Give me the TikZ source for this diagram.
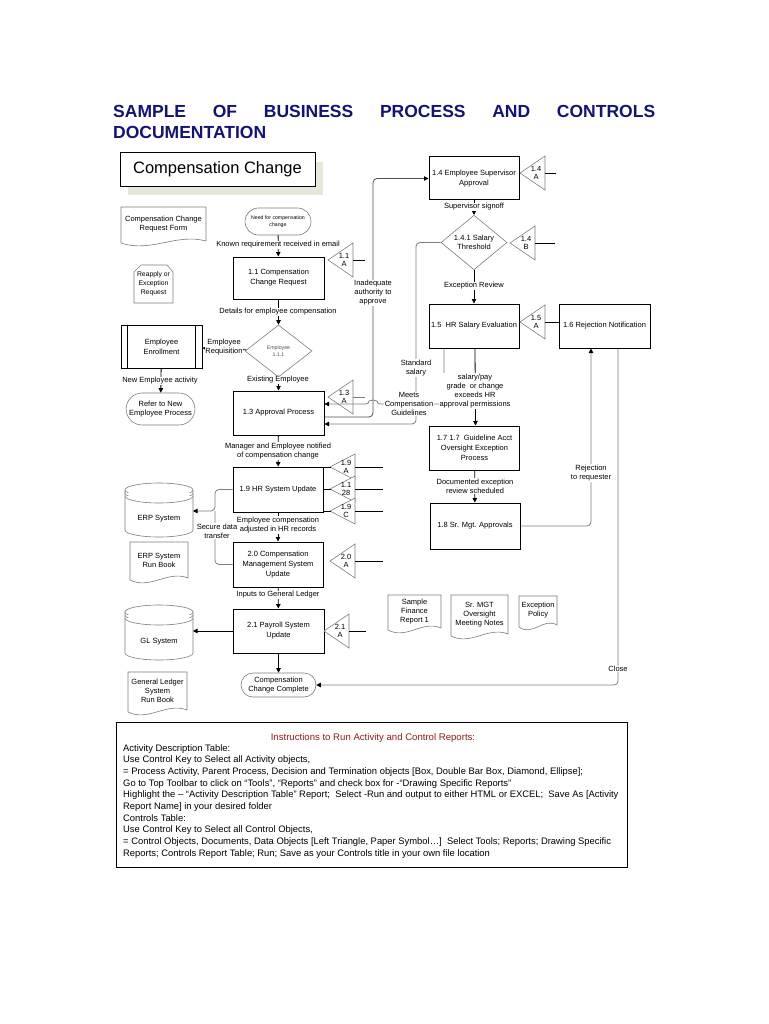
\documentclass[tikz,border=0pt]{standalone}
\usepackage{fontspec}
\setmainfont{Liberation Sans}
\usetikzlibrary{arrows.meta,shapes.geometric,shapes.misc}
\definecolor{navy}{RGB}{18,18,125}
\definecolor{shadowc}{RGB}{230,230,218}
\definecolor{darkred}{RGB}{150,25,25}
\definecolor{lgray}{RGB}{125,125,125}
\definecolor{mgray}{RGB}{80,80,80}
\tikzset{
 boxn/.style={draw=black,line width=1pt,fill=white,inner sep=1pt,align=center,font=\fontsize{7.5}{10}\selectfont},
 lbl/.style={fill=white,inner sep=0.6pt,align=center,font=\fontsize{7.5}{9}\selectfont},
 tri/.style={draw=lgray,line width=0.6pt,fill=white},
 trilbl/.style={inner sep=0pt,align=center,font=\fontsize{7.5}{8.5}\selectfont},
 docl/.style={draw=lgray,line width=0.6pt,fill=white},
 doctxt/.style={inner sep=0pt,align=center,font=\fontsize{7.5}{9}\selectfont},
 term/.style={rounded rectangle,draw=lgray,line width=0.6pt,fill=white,inner sep=1pt,align=center,font=\fontsize{7.5}{9}\selectfont},
 dec/.style={diamond,draw=lgray,line width=0.6pt,fill=white,inner sep=0pt,align=center,font=\fontsize{7.5}{9}\selectfont},
 ln/.style={draw=black,line width=0.8pt},
 lng/.style={draw=lgray,line width=0.8pt},
 lnm/.style={draw=mgray,line width=0.8pt},
 arr/.style={ln,-{Triangle[length=4.5pt,width=4.5pt]}},
 arrg/.style={lng,-{Triangle[length=4.5pt,width=4.5pt,color=black]}},
 arrm/.style={lnm,-{Triangle[length=4.5pt,width=4.5pt,color=black]}},
 ins/.style={anchor=base west,inner sep=0pt,font=\fontsize{9.4}{11}\selectfont},
}
\newcommand{\ctrltri}[5]{%
 \draw[tri] (#2,#3) -- (#2+25,#3-#4) -- (#2+25,#3+#4) -- cycle;
 \node[trilbl] (#1) at (#2+16,#3) {#5};
 \coordinate (#1-r) at (#2+25,#3);
}
\newcommand{\docsym}[6]{%
 \draw[docl] (#2,#3) -- (#4,#3) -- (#4,#5-2) .. controls (#4-0.35*#4+0.35*#2,#5-10) and (#2+0.35*#4-0.35*#2,#5+10) .. (#2,#5) -- cycle;
 \node[doctxt] (#1) at ({(#2+#4)/2},{(#3+#5)/2-1}) {#6};
}
\newcommand{\cylsym}[5]{%
 \draw[docl] (#2-34,#3) -- (#2-34,#4) arc[start angle=180,end angle=360,x radius=34pt,y radius=7pt] -- (#2+34,#3);
 \draw[docl] (#2,#3) ellipse[x radius=34pt,y radius=7pt];
 \draw[docl] (#2-34,#3+3) arc[start angle=180,end angle=360,x radius=34pt,y radius=7pt];
 \draw[docl] (#2-34,#3+6) arc[start angle=180,end angle=360,x radius=34pt,y radius=7pt];
 \node[doctxt] (#1) at (#2,#4-11) {#5};
}
\begin{document}
\begin{tikzpicture}[x=1pt,y=-1pt]
\fill[white] (0,0) rectangle (768,1024);
\useasboundingbox (0,0) rectangle (768,1024);

% title
\node[anchor=base west,inner sep=0pt,text=navy,font=\fontsize{17.5}{21}\selectfont\bfseries] (title1) at (113,117.5) {\hbox to 542pt{SAMPLE\hfill OF\hfill BUSINESS\hfill PROCESS\hfill AND\hfill CONTROLS}};
\node[anchor=base west,inner sep=0pt,text=navy,font=\fontsize{17.5}{21}\selectfont\bfseries] (title2) at (113,138.5) {DOCUMENTATION};

% compensation change heading
\fill[shadowc] (128,162) rectangle (323,195);
\node[draw=black,line width=0.8pt,fill=white,minimum width=195pt,minimum height=34pt,inner sep=0pt,font=\fontsize{16.5}{18}\selectfont] (cc) at (217.5,169) {Compensation Change};

% documents and data
\docsym{formdoc}{121}{207}{206}{243}{Compensation Change\\Request Form}
\draw[docl] (134,272) -- (141,265) -- (167,265) -- (173,272) -- (173,303) -- (134,303) -- cycle;
\node[doctxt,font=\fontsize{6.8}{9}\selectfont] (reapply) at (153.5,284) {Reapply or\\Exception\\Request};
\cylsym{erp}{159}{490}{530}{ERP System}
\docsym{erpbook}{130}{542}{188}{580}{ERP System\\Run Book}
\cylsym{gl}{159}{612}{653}{GL System}
\docsym{glbook}{128}{672}{187}{712}{General Ledger\\System\\Run Book}
\docsym{finrep}{388}{595}{441}{630}{Sample\\Finance\\Report 1}
\docsym{mgtnotes}{451}{595}{508}{636}{Sr. MGT\\Oversight\\Meeting Notes}
\docsym{expol}{519}{596}{557}{627}{Exception\\Policy}

% terminators
\node[term,minimum width=68pt,minimum height=27pt,font=\fontsize{5.2}{6.5}\selectfont] (start) at (278,221.5) {Need for compensation\\change};
\node[term,minimum width=65pt,minimum height=32pt] (refer) at (160.5,409) {Refer to New\\Employee Process};
\node[term,minimum width=77pt,minimum height=24pt] (done) at (278.5,685) {Compensation\\Change Complete};

% process boxes
\node[boxn,minimum width=91pt,minimum height=42pt] (b11) at (278.5,278) {1.1 Compensation\\Change Request};
\node[boxn,minimum width=91pt,minimum height=44pt] (b13) at (278.5,413) {1.3 Approval Process};
\node[boxn,minimum width=90pt,minimum height=45pt] (b19) at (278,489.5) {1.9 HR System Update};
\node[boxn,minimum width=90pt,minimum height=45pt] (b20) at (278,564.5) {2.0 Compensation\\Management System\\Update};
\node[boxn,minimum width=91pt,minimum height=44pt] (b21) at (278.5,631) {2.1 Payroll System\\Update};
\node[boxn,minimum width=90pt,minimum height=43pt] (b14) at (474,178.5) {1.4 Employee Supervisor\\Approval};
\node[boxn,minimum width=90pt,minimum height=44pt] (b15) at (474,326) {1.5\ \ HR Salary Evaluation};
\node[boxn,minimum width=91pt,minimum height=44pt] (b16) at (604.5,326) {1.6 Rejection Notification};
\node[boxn,minimum width=90pt,minimum height=44pt] (b17) at (474.5,448) {1.7 1.7\ \ Guideline Acct\\Oversight Exception\\Process};
\node[boxn,minimum width=90pt,minimum height=46pt] (b18) at (475,526) {1.8 Sr. Mgt. Approvals};
\node[boxn,minimum width=81pt,minimum height=43pt] (enroll) at (161.5,346.5) {Employee\\Enrollment};
\draw[line width=1pt] ([xshift=7pt]enroll.north west) -- ([xshift=7pt]enroll.south west);
\draw[line width=1pt] ([xshift=-7pt]enroll.north east) -- ([xshift=-7pt]enroll.south east);

% decisions
\node[dec,minimum width=67pt,minimum height=52pt,font=\fontsize{5.2}{6.5}\selectfont,text=mgray] (dia) at (278.5,351) {Employee\\1.1.1};
\node[dec,minimum width=66pt,minimum height=51pt] (d141) at (474,242.5) {1.4.1 Salary\\Threshold};

% control triangles
\ctrltri{t11}{328}{260}{17}{1.1\\A}
\ctrltri{t13}{328}{397}{17}{1.3\\A}
\ctrltri{t14a}{520}{173}{17}{1.4\\A}
\ctrltri{t14b}{510}{243}{17}{1.4\\B}
\ctrltri{t15}{520}{322}{17}{1.5\\A}
\ctrltri{t19a}{330}{467}{13}{1.9\\A}
\ctrltri{t128}{330}{489}{13}{1.1\\28}
\ctrltri{t19c}{330}{511}{13}{1.9\\C}
\ctrltri{t20}{330}{561}{17}{2.0\\A}
\ctrltri{t21}{324}{631}{17}{2.1\\A}
\draw[ln] (t11-r) -- ++(12,0);
\draw[lng,line width=0.6pt] (t13-r) -- ++(12,0);
\draw[ln] (t14a-r) -- ++(11,0);
\draw[ln] (t14b-r) -- ++(20,0);
\draw[ln] (t15-r) -- (t15-r -| b16.west);
\draw[ln] (t19a-r) -- ++(28,0);
\draw[ln] (t128-r) -- ++(28,0);
\draw[ln] (t19c-r) -- ++(28,0);
\draw[ln] (t20-r) -- ++(28,0);
\draw[ln] (t21-r) -- ++(17,0);
\draw[ln] (b19.east |- t19a-r) -- ++(7,0);
\draw[ln] (b19.east |- t128-r) -- ++(7,0);
\draw[ln] (b19.east |- t19c-r) -- ++(7,0);

% main flow connectors
\draw[arr] (start) -- (b11);
\draw[arr] (b11) -- (dia);
\draw[arr] (dia) -- (enroll);
\draw[arr] (enroll) -- (refer);
\draw[arr] (dia) -- (b13);
\draw[arr] (b13) -- (b19);
\draw[arr] (b19) -- (b20);
\draw[arr] (b20) -- (b21);
\draw[arr] (b21) -- (done);
\coordinate (glin) at (193,631);
\draw[arr] (b21.west) -- (glin);
\coordinate (sj) at (215,511);
\coordinate (erpin) at (193,511);
\draw[arrg,rounded corners=4pt] (b19.west) -| (sj) -- (erpin);
\draw[lng,rounded corners=4pt] (b20.west) -| (sj);

\coordinate (up14) at (373,178.5);
\draw[arrm,rounded corners=4pt] ([yshift=-4pt]b13.east) -| (up14) -- (b14.west);
\draw[arr] (b14) -- (d141);
\draw[arr] (d141) -- (b15);
\coordinate (std) at (416,424);
\draw[arrg,rounded corners=4pt] (d141.west) -| (std) -- ([yshift=-11pt]b13.east);
\coordinate (hop) at (377,404);
\draw[arrg,rounded corners=3pt] ([xshift=-30pt]b15.south) |- (hop) arc[start angle=0,end angle=180,radius=4pt] -- ([yshift=9pt]b13.east);
\draw[arr] ([xshift=1pt]b15.south) -- ([xshift=1pt]b17.north);
\draw[arr] (b17) -- (b18);
\draw[arrg,rounded corners=4pt] (b18.east) -| ([xshift=-13.5pt]b16.south);
\draw[arrg,rounded corners=4pt] ([xshift=13.5pt]b16.south) |- (done.east);

% connector labels
\node[lbl] (l1) at (278,245) {Known requirement received in email};
\node[lbl] (l2) at (278,312) {Details for employee compensation};
\node[lbl] (l3) at (224,347) {Employee\\Requisition};
\node[lbl] (l4) at (160,381) {New Employee activity};
\node[lbl] (l5) at (278,380) {Existing Employee};
\node[lbl] (l6) at (278,451) {Manager and Employee notified\\of compensation change};
\node[lbl] (l7) at (278,525) {Employee compensation\\adjusted in HR records};
\node[lbl] (l8) at (217,531) {Secure data\\transfer};
\node[lbl] (l9) at (278,595) {Inputs to General Ledger};
\node[lbl] (l10) at (373,293) {Inadequate\\authority to\\approve};
\node[lbl] (l11) at (474,207) {Supervisor signoff};
\node[lbl] (l12) at (474,286) {Exception Review};
\node[lbl] (l13) at (416,368) {Standard\\salary};
\node[lbl] (l14) at (409,404) {Meets\\Compensation\\Guidelines};
\node[lbl] (l15) at (475,391) {salary/pay\\grade\ \ or change\\exceeds HR\\approval permissions};
\node[lbl] (l16) at (475,486) {Documented exception\\review scheduled};
\node[lbl] (l17) at (591,473) {Rejection\\to requester};
\node[lbl] (l18) at (618,669) {Close};

% instructions box
\draw[line width=0.9pt] (116,722) rectangle (627,867);
\node[anchor=base,inner sep=0pt,text=darkred,font=\fontsize{9.6}{11}\selectfont] (insT) at (373,740) {Instructions to Run Activity and Control Reports:};
\node[ins] (i1) at (123,751) {Activity Description Table:};
\node[ins] (i2) at (123,762.7) {Use Control Key to Select all Activity objects,};
\node[ins] (i3) at (123,774.4) {= Process Activity, Parent Process, Decision and Termination objects [Box, Double Bar Box, Diamond, Ellipse];};
\node[ins] (i4) at (123,786.1) {Go to Top Toolbar to click on “Tools”, “Reports” and check box for -“Drawing Specific Reports”};
\node[ins] (i5) at (123,797.8) {Highlight the – “Activity Description Table” Report;\ \ Select -Run and output to either HTML or EXCEL;\ \ Save As [Activity};
\node[ins] (i6) at (123,809.5) {Report Name] in your desired folder};
\node[ins] (i7) at (123,821.2) {Controls Table:};
\node[ins] (i8) at (123,832.9) {Use Control Key to Select all Control Objects,};
\node[ins] (i9) at (123,844.6) {= Control Objects, Documents, Data Objects [Left Triangle, Paper Symbol…]\ \ Select Tools; Reports; Drawing Specific};
\node[ins] (i10) at (123,856.3) {Reports; Controls Report Table; Run; Save as your Controls title in your own file location};
\end{tikzpicture}
\end{document}
